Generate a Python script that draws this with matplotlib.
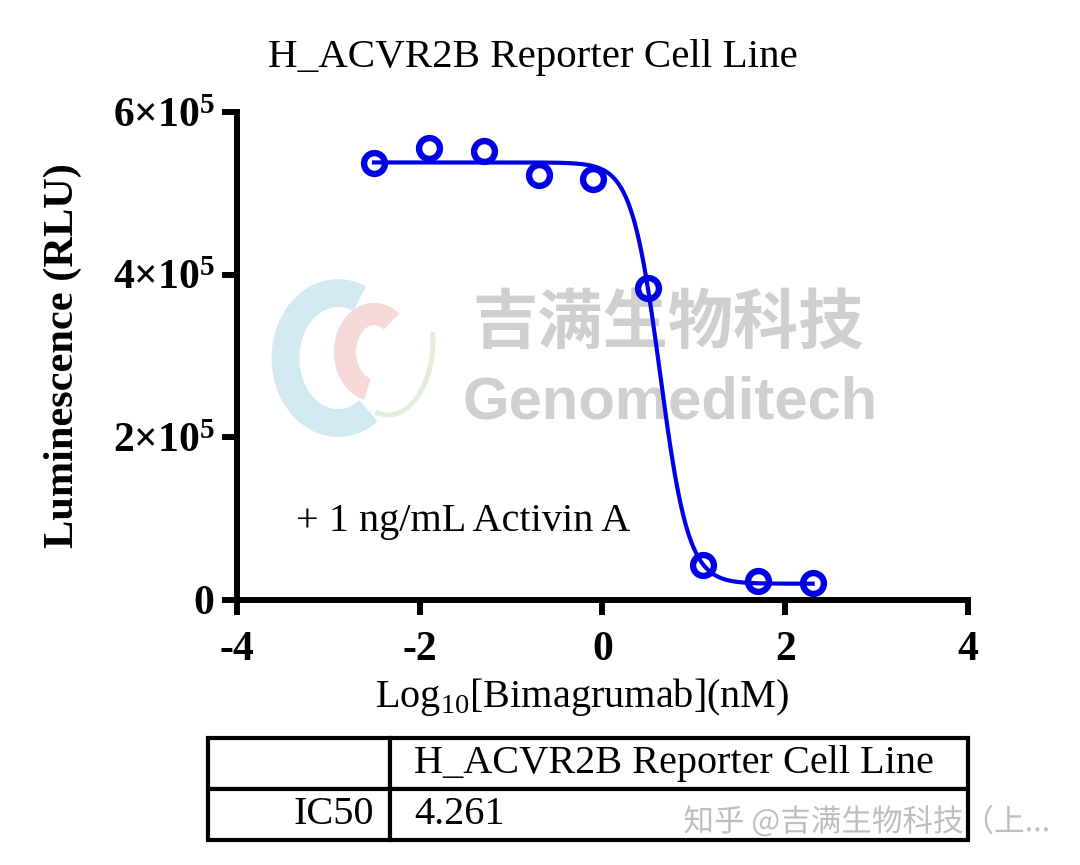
import numpy as np
import matplotlib
matplotlib.use('Agg')
import matplotlib.pyplot as plt
import matplotlib.patheffects as pe
from matplotlib.patches import Arc
from matplotlib.transforms import IdentityTransform

plt.rcParams['font.family'] = ['Liberation Serif', 'DejaVu Serif']
plt.rcParams['mathtext.fontset'] = 'custom'
plt.rcParams['mathtext.rm'] = 'Liberation Serif'
plt.rcParams['mathtext.bf'] = 'Liberation Serif:bold'

# data
log_conc = [-2.5, -1.9, -1.3, -0.7, -0.1, 0.5, 1.1, 1.7, 2.3]
rlu = [537000, 556000, 552000, 523000, 518000, 383000, 43000, 23000, 21000]

# 4PL fit parameters
fit_top = 538000
fit_bottom = 20000
ic50 = 4.261
hill = 2.8

ytick_vals = [0, 200000, 400000, 600000]
ytick_labels = ['0', r'$\mathbf{2{\times}10^{5}}$', r'$\mathbf{4{\times}10^{5}}$', r'$\mathbf{6{\times}10^{5}}$']
xtick_vals = [-4, -2, 0, 2, 4]

table_rows = [['', 'H_ACVR2B Reporter Cell Line'], ['IC50', '4.261']]

blue = '#0000e6'

fig = plt.figure(figsize=(10.8, 8.65), dpi=100)
ax = fig.add_axes([0.2194, 0.3064, 0.6769, 0.5641])
ax.patch.set_alpha(0)

# watermark logo (rough) and text
H = 865
fig.add_artist(Arc((338, H - 358), 105, 130, theta1=70, theta2=300, lw=20,
                   color='#d3eaf2', transform=IdentityTransform(), zorder=0))
fig.add_artist(Arc((374, H - 352), 58, 76, theta1=60, theta2=260, lw=16,
                   color='#f8d9d9', transform=IdentityTransform(), zorder=0))
fig.add_artist(Arc((388, H - 340), 90, 150, theta1=-100, theta2=10, lw=3.5,
                   color='#e2eed8', transform=IdentityTransform(), zorder=0))
ax.text(0.59, 0.568, '吉满生物科技', transform=ax.transAxes, ha='center', va='center',
        fontsize=47, fontweight='bold', color='#cfcfcf', family=['Noto Sans CJK SC'], zorder=0)
ax.text(0.592, 0.403, 'Genomeditech', transform=ax.transAxes, ha='center', va='center',
        fontsize=43, fontweight='bold', color='#cfcfcf', family=['Liberation Sans'], zorder=0)

xs = np.linspace(log_conc[0], log_conc[-1], 400)
curve = fit_bottom + (fit_top - fit_bottom) / (1 + 10 ** ((xs - np.log10(ic50)) * hill))
ax.plot(xs, curve, color=blue, lw=3, zorder=3)
ax.plot(log_conc, rlu, 'o', ms=15, mfc='none', mec=blue, mew=4.6, zorder=4)

ax.set_xlim(-4, 4)
ax.set_ylim(0, 600000)
ax.set_xticks(xtick_vals)
ax.set_xticklabels([str(v) for v in xtick_vals], fontsize=30, fontweight='bold')
ax.set_yticks(ytick_vals)
ax.set_yticklabels(ytick_labels, fontsize=30, fontweight='bold')
ax.tick_params(width=4.3, length=11, direction='out')
ax.tick_params(axis='x', pad=11)
ax.tick_params(axis='y', pad=5)
for s in ['top', 'right']:
    ax.spines[s].set_visible(False)
for s in ['left', 'bottom']:
    ax.spines[s].set_linewidth(4.3)

ax.set_ylabel('Luminescence (RLU)', fontsize=30.5, fontweight='bold', labelpad=22)
fig.text(0.539, 1 - 697 / H, r'Log$_{10}$[Bimagrumab](nM)', fontsize=29, ha='center', va='center')
fig.text(0.493, 1 - 58 / H, 'H_ACVR2B Reporter Cell Line', fontsize=29.5, ha='center', va='center')

ax.text(-3.35, 96000, '+ 1 ng/mL Activin A', fontsize=29, va='center', ha='left')

# table under the chart
tax = fig.add_axes([0.1926, 0.029, 0.7037, 0.118])
tax.axis('off')
tbl = tax.table(cellText=table_rows, colWidths=[0.2395, 0.7605], bbox=[0, 0, 1, 1])
tbl.auto_set_font_size(False)
for (r, c), cell in tbl.get_celld().items():
    cell.set_linewidth(3)
    cell.get_text().set_fontsize(29)
    if c == 0:
        cell.get_text().set_ha('right')
        cell.PAD = 0.09
    else:
        cell.get_text().set_ha('left')
        cell.PAD = 0.042

fig.text(0.972, 1 - 822 / H, '知乎 @吉满生物科技（上...', ha='right', va='center', fontsize=22,
         color='#bdbdbd', family=['Noto Sans CJK SC', 'DejaVu Sans'],
         path_effects=[pe.withStroke(linewidth=2, foreground='white')])

fig.savefig('out.png', dpi=100)
